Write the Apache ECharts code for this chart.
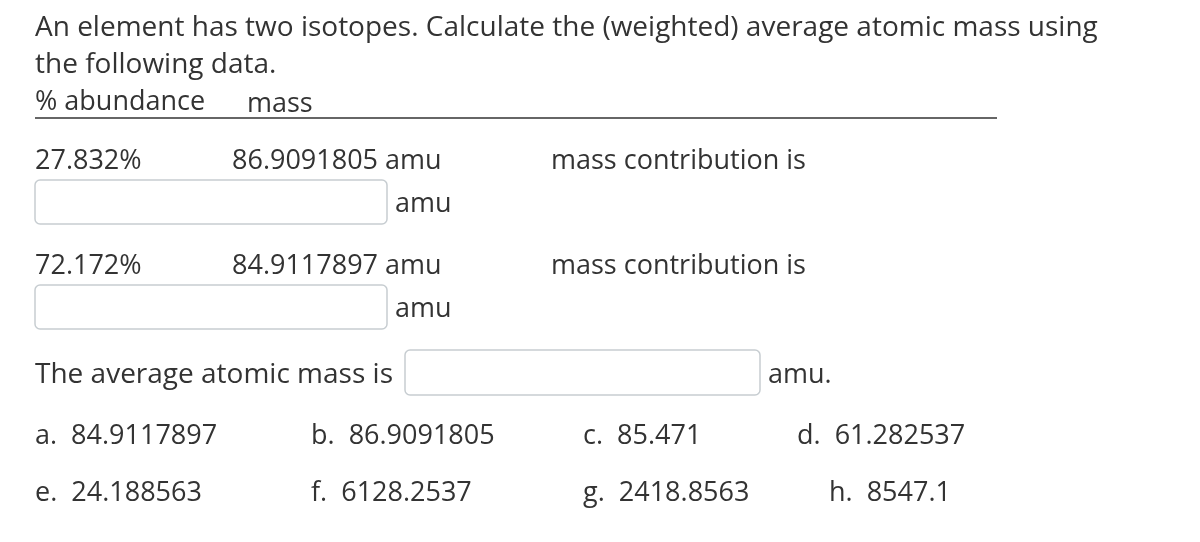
<!DOCTYPE html>
<html><head><meta charset="utf-8">
<script src="https://cdn.jsdelivr.net/npm/echarts@6/dist/echarts.min.js"></script>
<style>html,body{margin:0;background:#fff}#c{width:1200px;height:542px}</style>
</head><body><div id="c"></div>
<script>
const questionLines = ["An element has two isotopes. Calculate the (weighted) average atomic mass using", "the following data."];
const headers = ["% abundance", "mass"];
const abundances = ["27.832%", "72.172%"];
const masses = ["86.9091805 amu", "84.9117897 amu"];
const contributionLabel = "mass contribution is";
const unitLabel = "amu";
const averageLabel = "The average atomic mass is";
const choicesRow1 = ["a. 84.9117897", "b. 86.9091805", "c. 85.471", "d. 61.282537"];
const choicesRow2 = ["e. 24.188563", "f. 6128.2537", "g. 2418.8563", "h. 8547.1"];

const FONT = '"Open Sans", "Noto Sans", sans-serif';
const COL = '#333';
function t(x, y, s, size) {
  return {type:'text', x, y, style:{text:s, fill:COL, font:(size||28)+'px '+FONT, textVerticalAlign:'middle'}};
}
function box(x, y, w, h) {
  return {type:'rect', shape:{x, y, width:w, height:h, r:5}, style:{fill:'#fff', stroke:'#c7cdd1', lineWidth:1.5}};
}
const g = [];
g.push(t(35, 28, questionLines[0]));
g.push(t(35, 65, questionLines[1]));
g.push(t(35, 102, headers[0], 27));
g.push(t(247, 104, headers[1], 27));
g.push({type:'line', shape:{x1:35, y1:118, x2:997, y2:118}, style:{stroke:'#333', lineWidth:1.5}});
const rowY = [161, 266];
rowY.forEach((y, i) => {
  g.push(t(35, y, abundances[i], 27));
  g.push(t(232, y, masses[i], 27));
  g.push(t(551, y, contributionLabel, 27));
  g.push(box(35, y + 19, 352, 44));
  g.push(t(395, y + 43, unitLabel, 27));
});
g.push(t(35, 375, averageLabel));
g.push(box(405, 350, 355, 45));
g.push(t(768, 375, unitLabel + '.', 27));
const xs1 = [35, 311, 583, 797];
const xs2 = [35, 311, 583, 829];
choicesRow1.forEach((s, i) => g.push(t(xs1[i], 436, s.replace('. ', '.  '), 27)));
choicesRow2.forEach((s, i) => g.push(t(xs2[i], 493, s.replace('. ', '.  '), 27)));

const chart = echarts.init(document.getElementById('c'));
chart.setOption({backgroundColor:'#fff', animation:false, graphic:{elements:g}});
</script></body></html>
